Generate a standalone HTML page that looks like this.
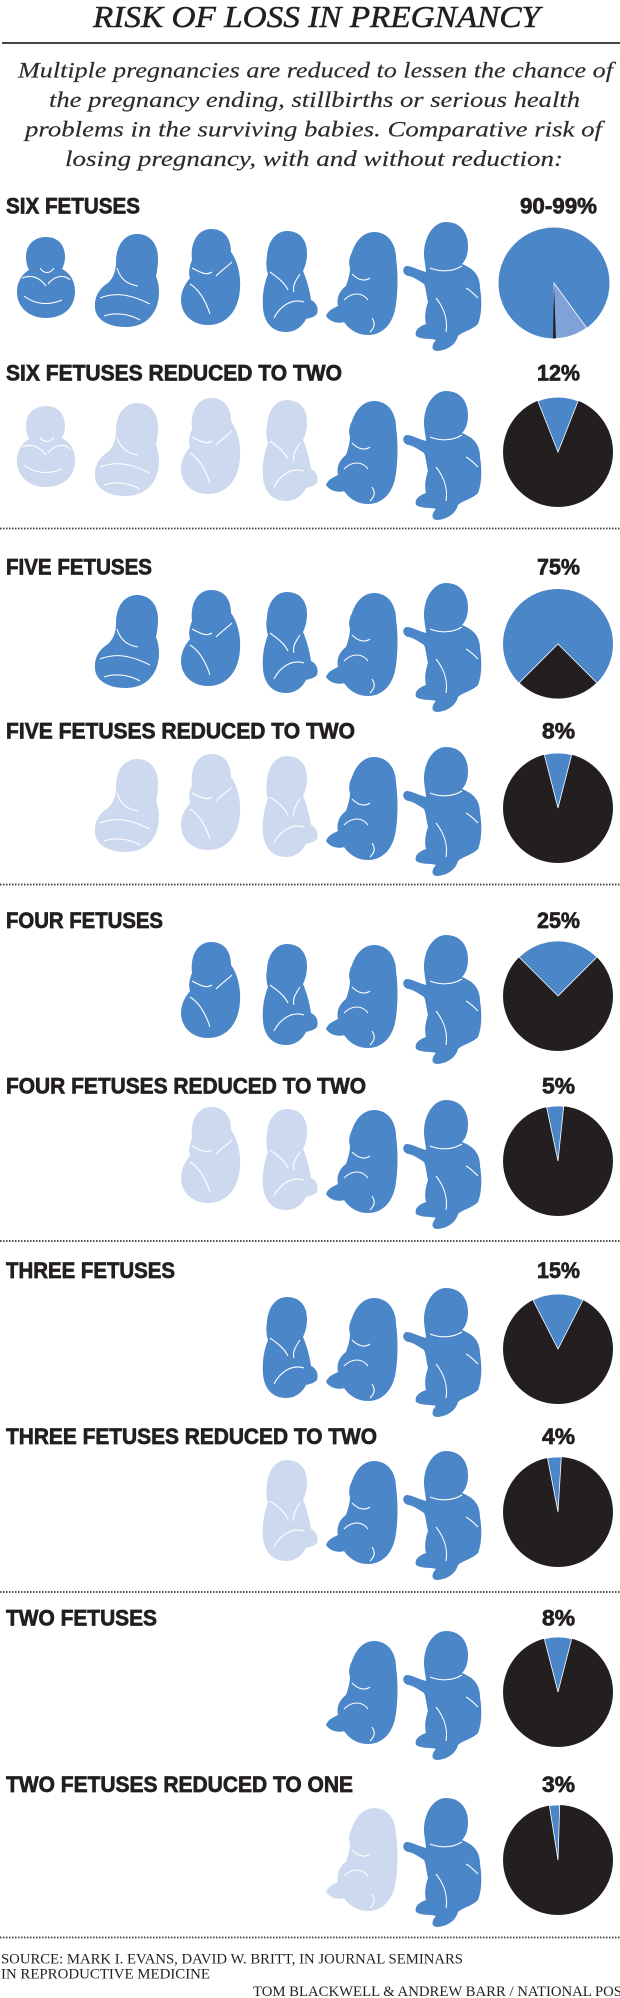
<!DOCTYPE html>
<html>
<head>
<meta charset="utf-8">
<style>
  html,body{margin:0;padding:0;background:#fff;}
  svg{display:block;}
</style>
</head>
<body>
<svg width="620" height="1998" viewBox="0 0 620 1998" xmlns="http://www.w3.org/2000/svg">
  <defs>
    <g id="f1">
      <path d="M46,9 C58,9 65,17 65,29 C65,35 63,39 62,41 C70,45 75,53 75,63 C75,80 63,90 46,90 C30,90 17,80 17,64 C17,54 22,46 29,42 C27,38 26,34 26,29 C26,17 34,9 46,9 Z"/>
      <path d="M22,50 C32,46 40,50 46,58 M48,56 C54,48 64,46 70,52 M24,68 C34,76 48,78 62,72 M40,40 C44,46 50,46 54,40" fill="none" stroke="#fff" stroke-width="1.1"/>
    </g>
    <g id="f2">
      <path d="M137,6 C150,6 158,16 158,30 C158,38 157,44 156,48 C160,58 160,70 156,80 C150,93 140,99 125,99 C109,99 96,92 95,80 C94,68 100,60 108,55 C113,50 116,44 116,34 C116,18 124,6 137,6 Z"/>
      <path d="M100,70 C115,64 130,66 150,76 M117,40 C120,50 126,56 138,58 M104,88 C115,84 130,86 140,92" fill="none" stroke="#fff" stroke-width="1.1"/>
    </g>
    <g id="f3">
      <path d="M211,1 C224,1 231,10 231,24 C237,32 241,46 240,60 C239,82 227,97 208,97 C192,97 181,86 181,72 C181,62 186,55 190,50 C188,44 190,37 192,32 C190,14 198,1 211,1 Z"/>
      <path d="M192,40 C200,44 206,48 212,44 M190,56 C200,62 206,74 210,86 M216,48 C222,42 228,38 232,34" fill="none" stroke="#fff" stroke-width="1.1"/>
    </g>
    <g id="f4">
      <path d="M287,3 C299,3 307,11 307,25 C307,33 305,39 303,43 C307,52 310,64 311,72 C316,74 319,80 317,86 C313,90 309,90 306,91 C302,99 295,104 286,104 C272,104 264,94 263,80 C262,68 264,56 268,46 C266,40 266,34 267,28 C268,13 276,3 287,3 Z"/>
      <path d="M270,44 C278,50 284,54 288,62 M274,90 C280,78 292,70 304,74 M300,46 C296,52 292,58 294,64" fill="none" stroke="#fff" stroke-width="1.1"/>
    </g>
    <g id="f5">
      <path d="M374,4 C388,4 396,16 396,30 C398,44 398,62 396,76 C394,94 384,107 368,107 C356,107 348,100 344,94 C338,96 330,94 326,88 C328,82 334,80 338,78 C336,70 340,62 346,58 C348,52 350,46 350,40 C348,34 350,28 352,24 C356,12 364,4 374,4 Z"/>
      <path d="M352,46 C358,52 364,54 370,50 M344,72 C352,64 362,64 368,72 M372,90 C376,96 374,100 370,104" fill="none" stroke="#fff" stroke-width="1.1"/>
    </g>
    <g id="f6">
      <path d="M446,-6 C460,-6 468,4 468,18 C468,26 466,32 462,36 C472,40 480,46 480,60 C482,72 482,86 478,96 C472,102 462,104 458,108 C456,116 448,122 438,123 C430,123 432,116 436,112 C430,110 422,112 416,108 C414,102 420,98 426,96 C424,88 426,80 428,74 C426,66 426,60 424,56 C418,52 412,48 408,48 C402,46 402,40 406,38 C412,38 418,42 426,44 C426,40 424,32 424,26 C424,8 434,-6 446,-6 Z"/>
      <path d="M430,40 C440,44 452,44 462,38 M436,70 C444,80 448,92 446,104 M466,60 C470,62 474,66 478,70" fill="none" stroke="#fff" stroke-width="1.1"/>
    </g>
  </defs>

  <!-- Title -->
  <text x="93" y="27" font-family="'Liberation Serif', serif" font-style="italic" font-size="31" fill="#231f20" stroke="#231f20" stroke-width="0.5" textLength="447" lengthAdjust="spacingAndGlyphs">RISK OF LOSS IN PREGNANCY</text>
  <rect x="2" y="42" width="618" height="2" fill="#444"/>

  <!-- Intro paragraph -->
  <g font-family="'Liberation Serif', serif" font-style="italic" font-size="22" fill="#2b2b2b" stroke="#2b2b2b" stroke-width="0.15">
    <text x="18" y="77.5" textLength="595" lengthAdjust="spacingAndGlyphs">Multiple pregnancies are reduced to lessen the chance of</text>
    <text x="49" y="107" textLength="531" lengthAdjust="spacingAndGlyphs">the pregnancy ending, stillbirths or serious health</text>
    <text x="25" y="136.5" textLength="577" lengthAdjust="spacingAndGlyphs">problems in the surviving babies. Comparative risk of</text>
    <text x="65" y="166" textLength="498" lengthAdjust="spacingAndGlyphs">losing pregnancy, with and without reduction:</text>
  </g>

  <!-- Section labels -->
  <g font-family="'Liberation Sans', sans-serif" font-weight="bold" font-size="22" fill="#231f20" stroke="#231f20" stroke-width="0.7">
    <text x="6" y="213.5" textLength="134" lengthAdjust="spacingAndGlyphs">SIX FETUSES</text>
    <text x="6" y="380.5" textLength="336" lengthAdjust="spacingAndGlyphs">SIX FETUSES REDUCED TO TWO</text>
    <text x="6" y="574.5" textLength="146" lengthAdjust="spacingAndGlyphs">FIVE FETUSES</text>
    <text x="6" y="738.5" textLength="349" lengthAdjust="spacingAndGlyphs">FIVE FETUSES REDUCED TO TWO</text>
    <text x="6" y="928" textLength="157" lengthAdjust="spacingAndGlyphs">FOUR FETUSES</text>
    <text x="6" y="1093.5" textLength="360" lengthAdjust="spacingAndGlyphs">FOUR FETUSES REDUCED TO TWO</text>
    <text x="6" y="1278" textLength="169" lengthAdjust="spacingAndGlyphs">THREE FETUSES</text>
    <text x="6" y="1444" textLength="371" lengthAdjust="spacingAndGlyphs">THREE FETUSES REDUCED TO TWO</text>
    <text x="6" y="1625.5" textLength="151" lengthAdjust="spacingAndGlyphs">TWO FETUSES</text>
    <text x="6" y="1792" textLength="347" lengthAdjust="spacingAndGlyphs">TWO FETUSES REDUCED TO ONE</text>
  </g>

  <!-- Percent labels -->
  <g font-family="'Liberation Sans', sans-serif" font-weight="bold" font-size="22" fill="#231f20" stroke="#231f20" stroke-width="0.7">
    <text x="520" y="213.5" textLength="77" lengthAdjust="spacingAndGlyphs">90-99%</text>
    <text x="537" y="380.5" textLength="43" lengthAdjust="spacingAndGlyphs">12%</text>
    <text x="537" y="574.5" textLength="43" lengthAdjust="spacingAndGlyphs">75%</text>
    <text x="542" y="738.5" textLength="33" lengthAdjust="spacingAndGlyphs">8%</text>
    <text x="537" y="928" textLength="43" lengthAdjust="spacingAndGlyphs">25%</text>
    <text x="542" y="1093.5" textLength="33" lengthAdjust="spacingAndGlyphs">5%</text>
    <text x="537" y="1278" textLength="43" lengthAdjust="spacingAndGlyphs">15%</text>
    <text x="542" y="1444" textLength="33" lengthAdjust="spacingAndGlyphs">4%</text>
    <text x="542" y="1625.5" textLength="33" lengthAdjust="spacingAndGlyphs">8%</text>
    <text x="542" y="1792" textLength="33" lengthAdjust="spacingAndGlyphs">3%</text>
  </g>

  <!-- Fetus rows -->
  <g transform="translate(0,228)">
    <use href="#f1" fill="#4a86c8"/><use href="#f2" fill="#4a86c8"/><use href="#f3" fill="#4a86c8"/>
    <use href="#f4" fill="#4a86c8"/><use href="#f5" fill="#4a86c8"/><use href="#f6" fill="#4a86c8"/>
  </g>
  <g transform="translate(0,397)">
    <use href="#f1" fill="#cdd9ee"/><use href="#f2" fill="#cdd9ee"/><use href="#f3" fill="#cdd9ee"/>
    <use href="#f4" fill="#cdd9ee"/><use href="#f5" fill="#4a86c8"/><use href="#f6" fill="#4a86c8"/>
  </g>
  <g transform="translate(0,589)">
    <use href="#f2" fill="#4a86c8"/><use href="#f3" fill="#4a86c8"/>
    <use href="#f4" fill="#4a86c8"/><use href="#f5" fill="#4a86c8"/><use href="#f6" fill="#4a86c8"/>
  </g>
  <g transform="translate(0,753)">
    <use href="#f2" fill="#cdd9ee"/><use href="#f3" fill="#cdd9ee"/>
    <use href="#f4" fill="#cdd9ee"/><use href="#f5" fill="#4a86c8"/><use href="#f6" fill="#4a86c8"/>
  </g>
  <g transform="translate(0,941)">
    <use href="#f3" fill="#4a86c8"/>
    <use href="#f4" fill="#4a86c8"/><use href="#f5" fill="#4a86c8"/><use href="#f6" fill="#4a86c8"/>
  </g>
  <g transform="translate(0,1106)">
    <use href="#f3" fill="#cdd9ee"/>
    <use href="#f4" fill="#cdd9ee"/><use href="#f5" fill="#4a86c8"/><use href="#f6" fill="#4a86c8"/>
  </g>
  <g transform="translate(0,1294)">
    <use href="#f4" fill="#4a86c8"/><use href="#f5" fill="#4a86c8"/><use href="#f6" fill="#4a86c8"/>
  </g>
  <g transform="translate(0,1457)">
    <use href="#f4" fill="#cdd9ee"/><use href="#f5" fill="#4a86c8"/><use href="#f6" fill="#4a86c8"/>
  </g>
  <g transform="translate(0,1637)">
    <use href="#f5" fill="#4a86c8"/><use href="#f6" fill="#4a86c8"/>
  </g>
  <g transform="translate(0,1804)">
    <use href="#f5" fill="#cdd9ee"/><use href="#f6" fill="#4a86c8"/>
  </g>

  <!-- Pies -->
  <circle cx="554" cy="283" r="55.5" fill="#4a86c8"/>
  <path d="M554,283 L586.6,327.9 A55.5,55.5 0 0 1 554,338.5 Z" fill="#7fa3d9" stroke="#fff" stroke-width="0.8"/>
  <path d="M554,283 L555.9,338.47 A55.5,55.5 0 0 1 553,338.49 Z" fill="#231f20"/>

  <circle cx="558" cy="452" r="55" fill="#231f20"/>
  <path d="M558,452 L537.8,400.9 A55,55 0 0 1 578.2,400.9 Z" fill="#4a86c8" stroke="#fff" stroke-width="0.8"/>

  <circle cx="558" cy="644" r="55" fill="#4a86c8"/>
  <path d="M558,644 L596.9,682.9 A55,55 0 0 1 519.1,682.9 Z" fill="#231f20" stroke="#fff" stroke-width="0.8"/>

  <circle cx="558" cy="808" r="55" fill="#231f20"/>
  <path d="M558,808 L544.3,754.7 A55,55 0 0 1 571.7,754.7 Z" fill="#4a86c8" stroke="#fff" stroke-width="0.8"/>

  <circle cx="558" cy="996" r="55" fill="#231f20"/>
  <path d="M558,996 L519.1,957.1 A55,55 0 0 1 596.9,957.1 Z" fill="#4a86c8" stroke="#fff" stroke-width="0.8"/>

  <circle cx="558" cy="1161" r="55" fill="#231f20"/>
  <path d="M558,1161 L546.6,1107.2 A55,55 0 0 1 563.7,1106.3 Z" fill="#4a86c8" stroke="#fff" stroke-width="0.8"/>

  <circle cx="558" cy="1349" r="55" fill="#231f20"/>
  <path d="M558,1349 L533,1300 A55,55 0 0 1 583,1300 Z" fill="#4a86c8" stroke="#fff" stroke-width="0.8"/>

  <circle cx="558" cy="1512" r="55" fill="#231f20"/>
  <path d="M558,1512 L547.5,1458 A55,55 0 0 1 561.3,1457.1 Z" fill="#4a86c8" stroke="#fff" stroke-width="0.8"/>

  <circle cx="558" cy="1692" r="55" fill="#231f20"/>
  <path d="M558,1692 L544.3,1638.7 A55,55 0 0 1 571.7,1638.7 Z" fill="#4a86c8" stroke="#fff" stroke-width="0.8"/>

  <circle cx="558" cy="1860" r="55" fill="#231f20"/>
  <path d="M558,1860 L549.4,1805.7 A55,55 0 0 1 559.7,1805 Z" fill="#4a86c8" stroke="#fff" stroke-width="0.8"/>

  <!-- Dotted separators -->
  <g stroke="#3a3a3a" stroke-width="1.8" stroke-dasharray="1.5 1.5">
    <line x1="0" y1="528.5" x2="620" y2="528.5"/>
    <line x1="0" y1="884.5" x2="620" y2="884.5"/>
    <line x1="0" y1="1241" x2="620" y2="1241"/>
    <line x1="0" y1="1592" x2="620" y2="1592"/>
    <line x1="0" y1="1937.5" x2="620" y2="1937.5"/>
  </g>

  <!-- Footer -->
  <g font-family="'Liberation Serif', serif" font-size="15" fill="#231f20">
    <text x="1" y="1963.5" textLength="462" lengthAdjust="spacingAndGlyphs">SOURCE: MARK I. EVANS, DAVID W. BRITT, IN JOURNAL SEMINARS</text>
    <text x="1" y="1978.5" textLength="209" lengthAdjust="spacingAndGlyphs">IN REPRODUCTIVE MEDICINE</text>
    <text x="253" y="1996" textLength="378" lengthAdjust="spacingAndGlyphs">TOM BLACKWELL &amp; ANDREW BARR / NATIONAL POST</text>
  </g>
</svg>
</body>
</html>
